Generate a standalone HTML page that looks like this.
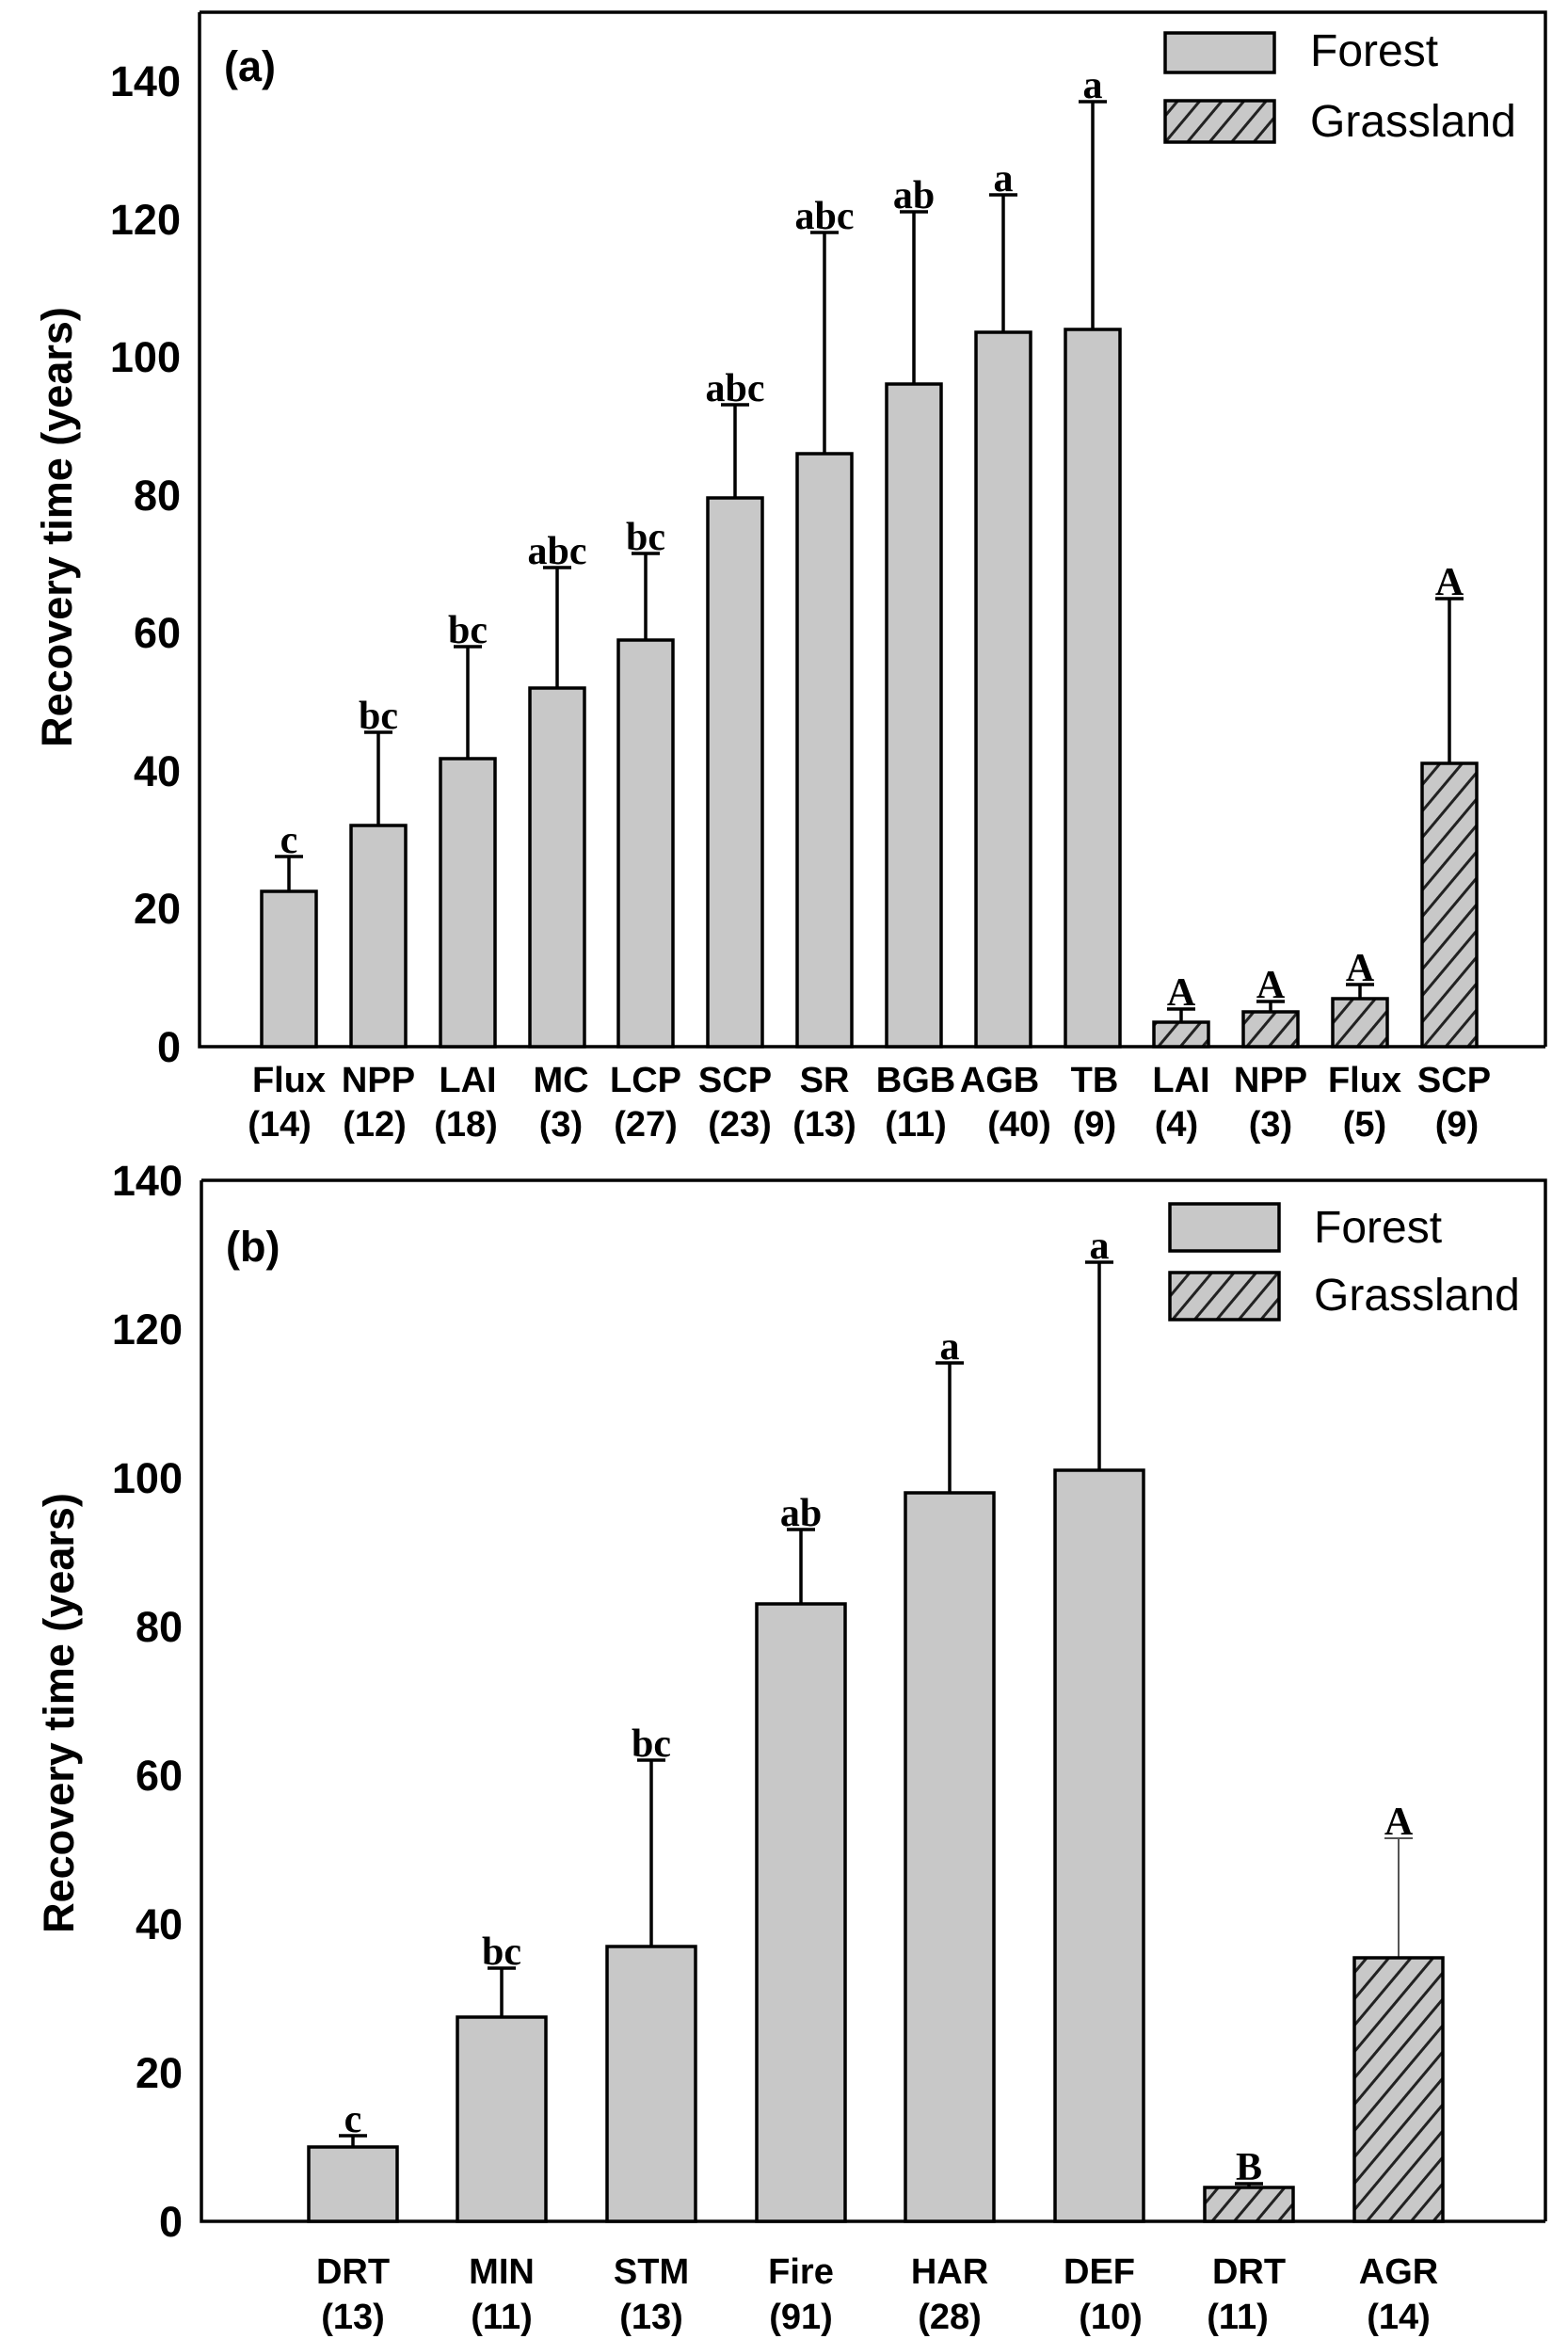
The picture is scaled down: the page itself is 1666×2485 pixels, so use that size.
<!DOCTYPE html>
<html><head><meta charset="utf-8"><style>
html,body{margin:0;padding:0;background:#fff}
svg{display:block}
.t{font-family:"Liberation Sans",sans-serif;font-weight:bold;font-size:45px;fill:#000}
.x{font-family:"Liberation Sans",sans-serif;font-weight:bold;font-size:38px;fill:#000}
.l{font-family:"Liberation Serif",serif;font-weight:bold;font-size:42px;fill:#000}
.g{font-family:"Liberation Sans",sans-serif;font-size:48px;fill:#000}
.b{fill:#c8c8c8;stroke:#000;stroke-width:3.5}
.h{fill:url(#hatch);stroke:#000;stroke-width:3.5}
.e{stroke:#000;stroke-width:3.5;fill:none}
</style></head><body>
<svg width="1666" height="2485" viewBox="0 0 1666 2485" xmlns="http://www.w3.org/2000/svg">
<defs>
<pattern id="hatch" patternUnits="userSpaceOnUse" width="18" height="18" patternTransform="rotate(40)">
<rect width="18" height="18" fill="#c8c8c8"/><line x1="0" y1="0" x2="0" y2="18" stroke="#222" stroke-width="6"/>
</pattern>
</defs>
<!-- Panel a -->
<path d="M212,13 H1642 V1112 M212,13 V1112 H1642" class="e"/>
<g class="t" text-anchor="end">
<text x="192" y="1128">0</text><text x="192" y="981">20</text><text x="192" y="835">40</text><text x="192" y="688">60</text><text x="192" y="542">80</text><text x="192" y="395">100</text><text x="192" y="249">120</text><text x="192" y="102">140</text>
</g>
<text class="t" transform="translate(76,560) rotate(-90)" text-anchor="middle" font-size="48">Recovery time (years)</text>
<text class="t" x="238" y="86" font-size="50">(a)</text>
<rect x="1238" y="35" width="116" height="42" class="b"/><text class="g" x="1392" y="70">Forest</text>
<rect x="1238" y="107" width="116" height="44" class="h"/><text class="g" x="1392" y="145">Grassland</text>
<g>
<path class="e" d="M307,947V910M292,910H322 M402,877V778M387,778H417 M497,806V687M482,687H512 M592,731V603M577,603H607 M686,680V588M671,588H701 M781,529V430M766,430H796 M876,482V247M861,247H891 M971,408V225M956,225H986 M1066,353V207M1051,207H1081 M1161,350V108M1146,108H1176 M1255,1086V1072M1240,1072H1270 M1350,1075V1064M1335,1064H1365 M1445,1061V1046M1430,1046H1460 M1540,811V636M1525,636H1555"/>
<rect class="b" x="278" y="947" width="58" height="165"/>
<rect class="b" x="373" y="877" width="58" height="235"/>
<rect class="b" x="468" y="806" width="58" height="306"/>
<rect class="b" x="563" y="731" width="58" height="381"/>
<rect class="b" x="657" y="680" width="58" height="432"/>
<rect class="b" x="752" y="529" width="58" height="583"/>
<rect class="b" x="847" y="482" width="58" height="630"/>
<rect class="b" x="942" y="408" width="58" height="704"/>
<rect class="b" x="1037" y="353" width="58" height="759"/>
<rect class="b" x="1132" y="350" width="58" height="762"/>
<rect class="h" x="1226" y="1086" width="58" height="26"/>
<rect class="h" x="1321" y="1075" width="58" height="37"/>
<rect class="h" x="1416" y="1061" width="58" height="51"/>
<rect class="h" x="1511" y="811" width="58" height="301"/>
</g>
<g class="l" text-anchor="middle">
<text x="307" y="906">c</text><text x="402" y="774">bc</text><text x="497" y="683">bc</text><text x="592" y="599">abc</text><text x="686" y="584">bc</text><text x="781" y="426">abc</text><text x="876" y="243">abc</text><text x="971" y="221">ab</text><text x="1066" y="203">a</text><text x="1161" y="104">a</text><text x="1255" y="1068">A</text><text x="1350" y="1060">A</text><text x="1445" y="1042">A</text><text x="1540" y="632">A</text>
</g>
<g class="x" text-anchor="middle">
<text x="307" y="1160">Flux</text><text x="402" y="1160">NPP</text><text x="497" y="1160">LAI</text><text x="596" y="1160">MC</text><text x="686" y="1160">LCP</text><text x="781" y="1160">SCP</text><text x="876" y="1160">SR</text><text x="973" y="1160">BGB</text><text x="1062" y="1160">AGB</text><text x="1163" y="1160">TB</text><text x="1255" y="1160">LAI</text><text x="1350" y="1160">NPP</text><text x="1450" y="1160">Flux</text><text x="1545" y="1160">SCP</text>
<text x="297" y="1207">(14)</text><text x="398" y="1207">(12)</text><text x="495" y="1207">(18)</text><text x="596" y="1207">(3)</text><text x="686" y="1207">(27)</text><text x="786" y="1207">(23)</text><text x="876" y="1207">(13)</text><text x="973" y="1207">(11)</text><text x="1083" y="1207">(40)</text><text x="1163" y="1207">(9)</text><text x="1250" y="1207">(4)</text><text x="1350" y="1207">(3)</text><text x="1450" y="1207">(5)</text><text x="1548" y="1207">(9)</text>
</g>
<!-- Panel b -->
<path d="M214,1254 H1642 V2360 M214,1254 V2360 H1642" class="e"/>
<g class="t" text-anchor="end">
<text x="194" y="2376">0</text><text x="194" y="2218">20</text><text x="194" y="2060">40</text><text x="194" y="1902">60</text><text x="194" y="1744">80</text><text x="194" y="1586">100</text><text x="194" y="1428">120</text><text x="194" y="1270">140</text>
</g>
<text class="t" transform="translate(78,1820) rotate(-90)" text-anchor="middle" font-size="48">Recovery time (years)</text>
<text class="t" x="240" y="1340" font-size="50">(b)</text>
<rect x="1243" y="1279" width="116" height="50" class="b"/><text class="g" x="1396" y="1320">Forest</text>
<rect x="1243" y="1352" width="116" height="50" class="h"/><text class="g" x="1396" y="1392">Grassland</text>
<path class="e" d="M375,2281V2269M360,2269H390 M533,2143V2091M518,2091H548 M692,2068V1870M677,1870H707 M851,1704V1625M836,1625H866 M1009,1586V1448M994,1448H1024 M1168,1562V1341M1153,1341H1183 M1327,2324V2320M1312,2320H1342"/>
<path d="M1486,2080V1953M1471,1953H1501" stroke="#555" stroke-width="2" fill="none"/>
<rect class="b" x="328" y="2281" width="94" height="79"/>
<rect class="b" x="486" y="2143" width="94" height="217"/>
<rect class="b" x="645" y="2068" width="94" height="292"/>
<rect class="b" x="804" y="1704" width="94" height="656"/>
<rect class="b" x="962" y="1586" width="94" height="774"/>
<rect class="b" x="1121" y="1562" width="94" height="798"/>
<rect class="h" x="1280" y="2324" width="94" height="36"/>
<rect class="h" x="1439" y="2080" width="94" height="280"/>
<g class="l" text-anchor="middle">
<text x="375" y="2265">c</text><text x="533" y="2087">bc</text><text x="692" y="1866">bc</text><text x="851" y="1621">ab</text><text x="1009" y="1444">a</text><text x="1168" y="1337">a</text><text x="1327" y="2316">B</text><text x="1486" y="1949">A</text>
</g>
<g class="x" text-anchor="middle">
<text x="375" y="2426">DRT</text><text x="533" y="2426">MIN</text><text x="692" y="2426">STM</text><text x="851" y="2426">Fire</text><text x="1009" y="2426">HAR</text><text x="1168" y="2426">DEF</text><text x="1327" y="2426">DRT</text><text x="1486" y="2426">AGR</text>
<text x="375" y="2474">(13)</text><text x="533" y="2474">(11)</text><text x="692" y="2474">(13)</text><text x="851" y="2474">(91)</text><text x="1009" y="2474">(28)</text><text x="1180" y="2474">(10)</text><text x="1315" y="2474">(11)</text><text x="1486" y="2474">(14)</text>
</g>
</svg>
</body></html>
